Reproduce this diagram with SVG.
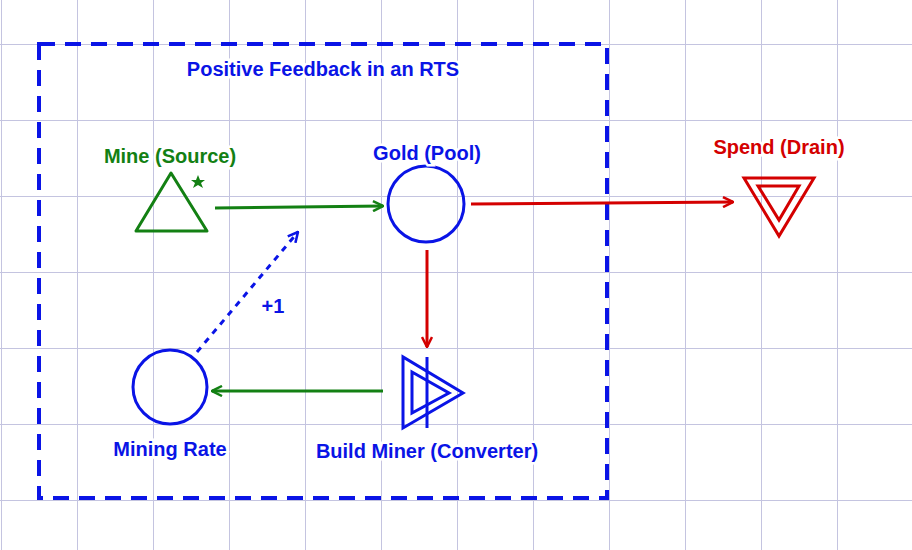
<svg xmlns="http://www.w3.org/2000/svg" width="912" height="550" viewBox="0 0 912 550">
<defs>
<pattern id="grid" x="1" y="44" width="76" height="76" patternUnits="userSpaceOnUse">
<path d="M0 0V76M0 0H76" fill="none" stroke="#c4c4e0" stroke-width="2"/>
</pattern>
<marker id="ag" viewBox="0 0 12 12" refX="11" refY="6" markerWidth="12" markerHeight="12" markerUnits="userSpaceOnUse" orient="auto"><path d="M1 1L11 6L1 11" fill="none" stroke="#138013" stroke-width="2.5"/></marker>
<marker id="ar" viewBox="0 0 12 12" refX="11" refY="6" markerWidth="12" markerHeight="12" markerUnits="userSpaceOnUse" orient="auto"><path d="M1 1L11 6L1 11" fill="none" stroke="#d40000" stroke-width="2.5"/></marker>
<marker id="ab" viewBox="0 0 12 12" refX="11" refY="6" markerWidth="12" markerHeight="12" markerUnits="userSpaceOnUse" orient="auto"><path d="M1 1L11 6L1 11" fill="none" stroke="#0a14e6" stroke-width="2.5"/></marker>
</defs>
<style>
text{font-family:"Liberation Sans",Arial,sans-serif;font-size:20px;font-weight:bold;text-anchor:middle;paint-order:stroke;stroke:#fff;stroke-width:5px}
.b{fill:#0a14e6}.g{fill:#138013}.r{fill:#d40000}
.sb{fill:none;stroke:#0a14e6;stroke-width:3}
.sg{fill:none;stroke:#138013;stroke-width:3}
.sr{fill:none;stroke:#d40000;stroke-width:3}
</style>
<rect width="912" height="550" fill="#fff"/>
<rect width="912" height="550" fill="url(#grid)"/>
<g id="frame">
<rect x="39" y="44" width="568" height="454" fill="none" stroke="#0a14e6" stroke-width="4" stroke-dasharray="16,10"/>
<text x="323" y="76" class="b">Positive Feedback in an RTS</text>
</g>
<g id="connectors">
<line x1="215" y1="208" x2="383" y2="206" class="sg" marker-end="url(#ag)"/>
<line x1="471" y1="204" x2="733" y2="202" class="sr" marker-end="url(#ar)"/>
<line x1="427" y1="250" x2="427" y2="347" class="sr" marker-end="url(#ar)"/>
<line x1="383" y1="391" x2="212" y2="391" class="sg" marker-end="url(#ag)"/>
<line x1="197" y1="352" x2="298" y2="232" class="sb" stroke-dasharray="6,6" marker-end="url(#ab)"/>
<text x="273" y="313" class="b">+1</text>
</g>
<g id="mine">
<path d="M171 173L207 231H136Z" class="sg" stroke-linejoin="round"/>
<path d="M198 175l2 5h5l-4 3 2 5-5-3-5 3 2-5-4-3h5z" class="g"/>
<text x="170" y="163" class="g">Mine (Source)</text>
</g>
<g id="gold">
<circle cx="426" cy="204" r="38" class="sb"/>
<text x="427" y="160" class="b">Gold (Pool)</text>
</g>
<g id="spend">
<path d="M744 178H814L779 236Z" class="sr"/>
<path d="M758 186H799L779 220Z" class="sr"/>
<text x="779" y="154" class="r">Spend (Drain)</text>
</g>
<g id="converter">
<path d="M403 357V428L463 393Z" class="sb"/>
<path d="M412 372V413L449 393Z" class="sb"/>
<line x1="427" y1="357" x2="427" y2="428" class="sb"/>
<text x="427" y="458" class="b">Build Miner (Converter)</text>
</g>
<g id="miningrate">
<circle cx="170" cy="387" r="37" class="sb"/>
<text x="170" y="456" class="b">Mining Rate</text>
</g>
</svg>
